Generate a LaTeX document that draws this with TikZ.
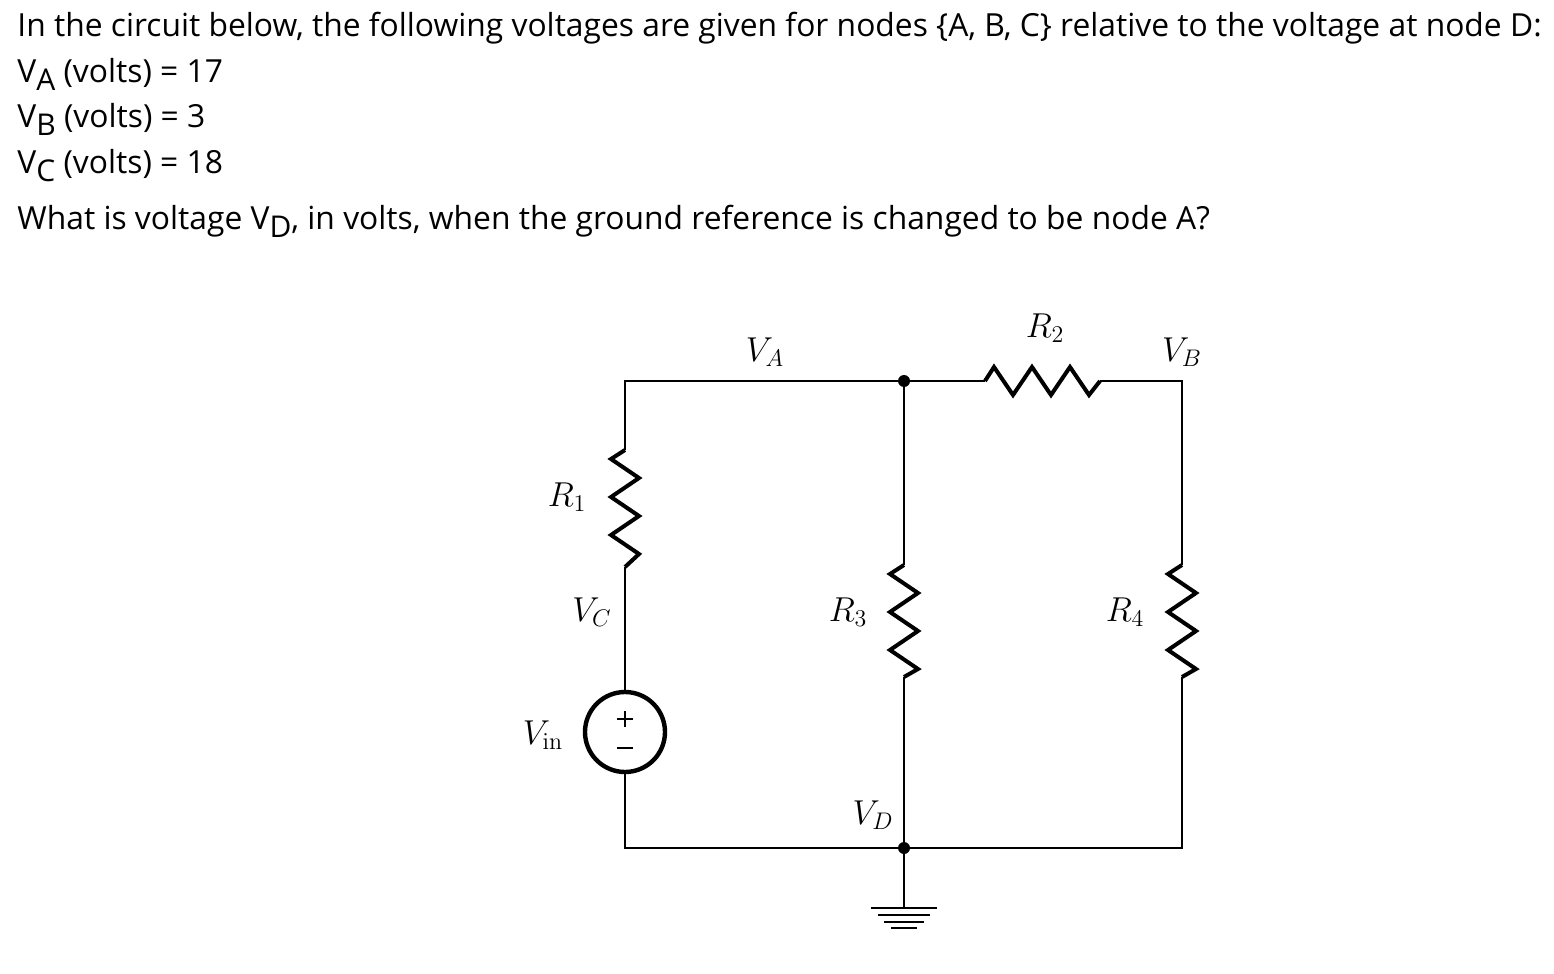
\documentclass[tikz,border=0pt]{standalone}
\usepackage[no-math]{fontspec}
\setmainfont{Open Sans}
\newcommand{\Vsub}[1]{V\raisebox{-4pt}{\fontsize{15}{15}\selectfont #1}}
\begin{document}
\begin{tikzpicture}[x=0.5pt,y=-0.5pt,
  txt/.style={anchor=base west,inner sep=0pt,font=\fontsize{15.9}{18}\selectfont},
  lab/.style={inner sep=0pt,font=\fontsize{17}{20}\selectfont},
  wire/.style={line width=1.4pt},
  res/.style={line width=2pt,line join=miter},
  dot/.style={circle,fill=black,inner sep=0pt,minimum size=6pt}]
\useasboundingbox (0,0) rectangle (1554,974);
\node[txt] (t1) at (17,37) {In the circuit below, the following voltages are given for nodes \{A, B, C\} relative to the voltage at node D:};
\node[txt] (t2) at (17,83) {\Vsub{A} (volts) = 17};
\node[txt] (t3) at (17,128) {\Vsub{B} (volts) = 3};
\node[txt] (t4) at (17,174) {\Vsub{C} (volts) = 18};
\node[txt] (t5) at (17,229) {What is voltage \Vsub{D}, in volts, when the ground reference is changed to be node A?};
% nodes
\coordinate (TL) at (625,381);
\node[dot] (TM) at (904,381) {};
\coordinate (TR) at (1182,381);
\coordinate (BL) at (625,848);
\node[dot] (BM) at (904,848) {};
\coordinate (BR) at (1182,848);
\coordinate (G) at (904,908);
\node[circle,draw,line width=2.2pt,minimum size=40pt,inner sep=0pt] (S) at (625,732) {};
\draw[line width=0.6pt] (625,711) -- (625,727) (617,719) -- (633,719) (617,748) -- (633,748);
% wires
\draw[wire] (S.north) -- (625,567);
\draw[wire] (625,450) -- (TL) -- (TM) -- (985,381);
\draw[wire] (1100,381) -- (TR) -- (1182,565);
\draw[wire] (1182,677) -- (BR) -- (BM) -- (BL) -- (S.south);
\draw[wire] (TM) -- (904,565);
\draw[wire] (904,677) -- (BM) -- (G);
% resistors
\draw[res] (625,450) -- (611,459) -- (639,478) -- (611,497) -- (639,516) -- (611,535) -- (639,554) -- (625,567);
\draw[res] (904,565) -- (890,574) -- (918,593) -- (890,612) -- (918,631) -- (890,650) -- (918,669) -- (904,677);
\draw[res] (1182,565) -- (1168,574) -- (1196,593) -- (1168,612) -- (1196,631) -- (1168,650) -- (1196,669) -- (1182,677);
\draw[res] (985,381) -- (994,367) -- (1013,395) -- (1032,367) -- (1051,395) -- (1070,367) -- (1089,395) -- (1100,381);
% ground
\draw[wire] (871,908) -- (937,908);
\draw[wire] (878,915) -- (930,915);
\draw[wire] (884,922) -- (924,922);
\draw[wire] (891,928) -- (917,928);
% labels
\node[lab] (lVA) at (765,352) {$V_A$};
\node[lab] (lR2) at (1045,328) {$R_2$};
\node[lab] (lVB) at (1182,352) {$V_B$};
\node[lab] (lR1) at (567,497) {$R_1$};
\node[lab] (lVC) at (592,612) {$V_C$};
\node[lab] (lR3) at (848,612) {$R_3$};
\node[lab] (lR4) at (1125,612) {$R_4$};
\node[lab] (lVin) at (543,735) {$V_{\mathrm{in}}$};
\node[lab] (lVD) at (873,815) {$V_D$};
\end{tikzpicture}
\end{document}
